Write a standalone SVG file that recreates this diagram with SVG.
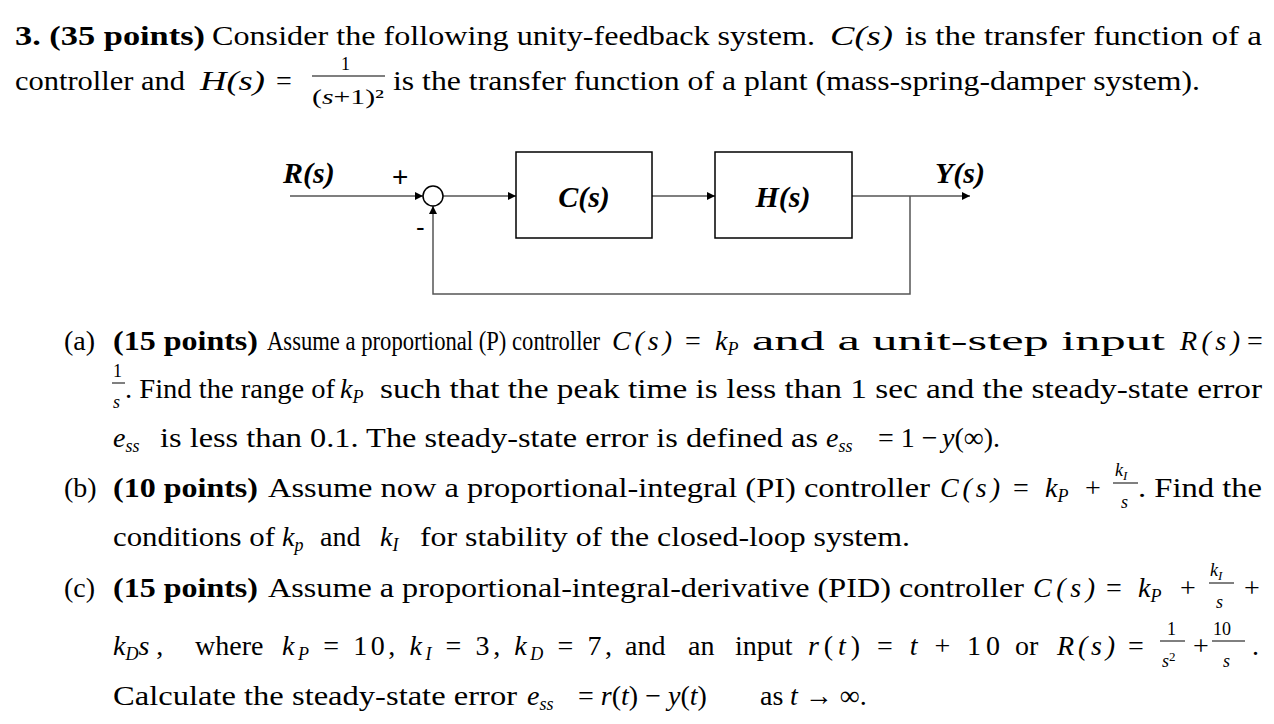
<svg xmlns="http://www.w3.org/2000/svg" width="1274" height="724" viewBox="0 0 1274 724">
<style>
text{font-family:"Liberation Serif","Times New Roman",serif;font-size:28px;fill:#000}
.b{font-weight:bold}
.m{font-style:italic}
.s{font-size:18px}
.d{font-weight:bold;font-style:italic;font-size:30px}
.ln{stroke:#555;stroke-width:1.5;fill:none}
.bx{stroke:#000;stroke-width:1.5;fill:#fff}
</style>
<defs><marker id="ar" viewBox="0 0 10 10" refX="10" refY="5" markerWidth="8" markerHeight="8" markerUnits="userSpaceOnUse" orient="auto"><path d="M0,0L10,5L0,10z" fill="#000"/></marker></defs>
<rect width="1274" height="724" fill="#fff"/>
<g id="header">
<text x="15" y="45" class="b" textLength="190" lengthAdjust="spacingAndGlyphs">3. (35 points)</text>
<text x="212" y="45" textLength="603" lengthAdjust="spacingAndGlyphs">Consider the following unity-feedback system.</text>
<text x="830" y="45" class="m" textLength="63" lengthAdjust="spacingAndGlyphs">C(s)</text>
<text x="905" y="45" textLength="357" lengthAdjust="spacingAndGlyphs">is the transfer function of a</text>
<text x="15" y="90" textLength="170" lengthAdjust="spacingAndGlyphs">controller and</text>
<text x="200" y="90" class="m" textLength="65" lengthAdjust="spacingAndGlyphs">H(s)</text>
<text x="276" y="90">=</text>
<text x="341" y="70" class="s">1</text>
<line x1="312" y1="76" x2="385" y2="76" stroke="#000" stroke-width="1.2"/>
<text x="312" y="104" style="font-size:21px" textLength="72" lengthAdjust="spacingAndGlyphs">(<tspan class="m">s</tspan>+1)²</text>
<text x="393" y="90" textLength="807" lengthAdjust="spacingAndGlyphs">is the transfer function of a plant (mass-spring-damper system).</text>
</g>
<g id="connectors">
<line class="ln" x1="290" y1="196" x2="423" y2="196" marker-end="url(#ar)"/>
<line class="ln" x1="443" y1="196" x2="516" y2="196" marker-end="url(#ar)"/>
<line class="ln" x1="652" y1="196" x2="715" y2="196" marker-end="url(#ar)"/>
<line class="ln" x1="852" y1="196" x2="970" y2="196" marker-end="url(#ar)"/>
<polyline class="ln" points="910,196 910,294 433,294 433,206" marker-end="url(#ar)"/>
</g>
<g id="sum"><circle cx="433" cy="196" r="10" class="bx"/>
<text x="392" y="186" style="font-family:'Liberation Sans',sans-serif">+</text>
<text x="416" y="236" style="font-family:'Liberation Sans',sans-serif;font-size:26px">-</text></g>
<g id="R"><text x="283" y="183" class="d">R(s)</text></g>
<g id="Y"><text x="935" y="183" class="d">Y(s)</text></g>
<g id="C"><rect x="516" y="152" width="136" height="86" class="bx"/><text x="584" y="207" class="d" text-anchor="middle">C(s)</text></g>
<g id="H"><rect x="715" y="152" width="137" height="86" class="bx"/><text x="783" y="207" class="d" text-anchor="middle">H(s)</text></g>
<g id="parts">
<text x="64" y="350">(a)</text>
<text x="113" y="350" class="b" textLength="145" lengthAdjust="spacingAndGlyphs">(15 points)</text>
<text x="267" y="350" textLength="333" lengthAdjust="spacingAndGlyphs">Assume a proportional (P) controller</text>
<text x="612" y="350" class="m" textLength="60" lengthAdjust="spacing">C(s)</text>
<text x="685" y="350">=</text>
<text x="715" y="350" class="m">k<tspan class="s" dy="5">P</tspan></text>
<text x="752" y="350" textLength="413" lengthAdjust="spacingAndGlyphs">and a unit-step input</text>
<text x="1180" y="350" class="m" textLength="60" lengthAdjust="spacing">R(s)</text>
<text x="1247" y="350">=</text>
<text x="113" y="377" class="s">1</text>
<line x1="112" y1="383" x2="125" y2="383" stroke="#000"/>
<text x="113" y="408" class="s m">s</text>
<text x="125" y="398" textLength="210" lengthAdjust="spacingAndGlyphs">. Find the range of</text>
<text x="340" y="398" class="m">k<tspan class="s" dy="5">P</tspan></text>
<text x="380" y="398" textLength="882" lengthAdjust="spacingAndGlyphs">such that the peak time is less than 1 sec and the steady-state error</text>
<text x="113" y="447" class="m">e<tspan class="s" dy="5">ss</tspan></text>
<text x="160" y="447" textLength="658" lengthAdjust="spacingAndGlyphs">is less than 0.1. The steady-state error is defined as</text>
<text x="826" y="447" class="m">e<tspan class="s" dy="5">ss</tspan></text>
<text x="878" y="447">= 1 −</text>
<text x="942" y="447"><tspan class="m">y</tspan>(∞).</text>
<text x="64" y="497">(b)</text>
<text x="113" y="497" class="b" textLength="145" lengthAdjust="spacingAndGlyphs">(10 points)</text>
<text x="268" y="497" textLength="662" lengthAdjust="spacingAndGlyphs">Assume now a proportional-integral (PI) controller</text>
<text x="940" y="497" class="m" textLength="60" lengthAdjust="spacing">C(s)</text>
<text x="1013" y="497">=</text>
<text x="1045" y="497" class="m">k<tspan class="s" dy="5">P</tspan></text>
<text x="1085" y="497">+</text>
<text x="1115" y="476" class="s m">k<tspan font-size="13" dy="4">I</tspan></text>
<line x1="1113" y1="483" x2="1138" y2="483" stroke="#000"/>
<text x="1121" y="508" class="s m">s</text>
<text x="1138" y="497" textLength="124" lengthAdjust="spacingAndGlyphs">. Find the</text>
<text x="113" y="546" textLength="162" lengthAdjust="spacingAndGlyphs">conditions of</text>
<text x="282" y="546" class="m">k<tspan class="s" dy="5">p</tspan></text>
<text x="320" y="546">and</text>
<text x="380" y="546" class="m">k<tspan class="s" dy="5">I</tspan></text>
<text x="420" y="546" textLength="490" lengthAdjust="spacingAndGlyphs">for stability of the closed-loop system.</text>
<text x="64" y="597">(c)</text>
<text x="113" y="597" class="b" textLength="145" lengthAdjust="spacingAndGlyphs">(15 points)</text>
<text x="268" y="597" textLength="756" lengthAdjust="spacingAndGlyphs">Assume a proportional-integral-derivative (PID) controller</text>
<text x="1033" y="597" class="m" textLength="62" lengthAdjust="spacing">C(s)</text>
<text x="1106" y="597">=</text>
<text x="1138" y="597" class="m">k<tspan class="s" dy="5">P</tspan></text>
<text x="1180" y="597">+</text>
<text x="1210" y="576" class="s m">k<tspan font-size="13" dy="4">I</tspan></text>
<line x1="1209" y1="583" x2="1234" y2="583" stroke="#000"/>
<text x="1216" y="608" class="s m">s</text>
<text x="1244" y="597">+</text>
<text x="113" y="655" class="m">k<tspan class="s" dy="5">D</tspan><tspan dy="-5">s</tspan><tspan font-style="normal"> ,</tspan></text>
<text x="195" y="655">where</text>
<text x="282" y="655" class="m" textLength="330" lengthAdjust="spacing">k<tspan class="s" dy="5">P</tspan><tspan dy="-5" font-style="normal"> = 10, </tspan>k<tspan class="s" dy="5">I</tspan><tspan dy="-5" font-style="normal"> = 3, </tspan>k<tspan class="s" dy="5">D</tspan><tspan dy="-5" font-style="normal"> = 7,</tspan></text>
<text x="625" y="655">and</text>
<text x="688" y="655">an</text>
<text x="735" y="655">input</text>
<text x="808" y="655" class="m" textLength="192" lengthAdjust="spacing">r<tspan font-style="normal">(</tspan>t<tspan font-style="normal">) = </tspan>t<tspan font-style="normal"> + 10</tspan></text>
<text x="1015" y="655">or</text>
<text x="1057" y="655" class="m" textLength="58" lengthAdjust="spacing">R(s)</text>
<text x="1128" y="655">=</text>
<text x="1167" y="635" class="s">1</text>
<line x1="1160" y1="641" x2="1185" y2="641" stroke="#000"/>
<text x="1162" y="667" class="s m">s<tspan font-style="normal" font-size="13" dy="-6">2</tspan></text>
<text x="1193" y="655">+</text>
<text x="1213" y="635" class="s">10</text>
<line x1="1212" y1="641" x2="1245" y2="641" stroke="#000"/>
<text x="1223" y="667" class="s m">s</text>
<text x="1252" y="655">.</text>
<text x="113" y="705" textLength="404" lengthAdjust="spacingAndGlyphs">Calculate the steady-state error</text>
<text x="527" y="705" class="m">e<tspan class="s" dy="5">ss</tspan></text>
<text x="578" y="705">= <tspan class="m">r</tspan>(<tspan class="m">t</tspan>) − <tspan class="m">y</tspan>(<tspan class="m">t</tspan>)</text>
<text x="760" y="705">as</text>
<text x="790" y="705"><tspan class="m">t</tspan> → ∞.</text>
</g>
</svg>
